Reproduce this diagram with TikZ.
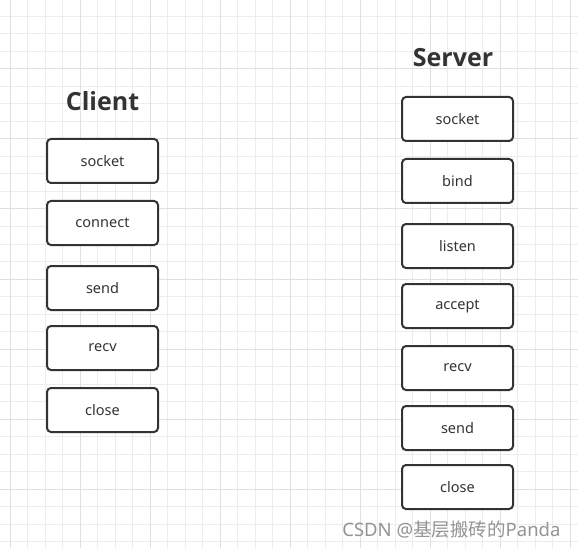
\documentclass[tikz,border=0pt]{standalone}
\usepackage{fontspec}
\setmainfont{Noto Sans}
\newfontfamily\titlefont{Open Sans}
\newfontfamily\cjk{Noto Sans CJK SC}
\definecolor{gridminor}{HTML}{ECECEC}
\definecolor{gridmajor}{HTML}{E0E0E0}
\definecolor{boxline}{HTML}{333333}
\tikzset{
  callbox/.style={draw=boxline, line width=2pt, rounded corners=4pt, fill=white,
    minimum width=111pt, minimum height=44pt, inner sep=0pt, font=\fontsize{14.5}{16}\selectfont, text=boxline},
  sidetitle/.style={font=\titlefont\fontsize{25}{28}\selectfont\bfseries, text=boxline}
}
\begin{document}
\begin{tikzpicture}[x=1pt,y=-1pt]
      \useasboundingbox (0,0) rectangle (578,548);
      \fill[white] (0,0) rectangle (578,548);
      % grid
      \foreach \gx in {0,...,33} {
        \draw[gridminor, line width=1pt] (10+17.5*\gx,0) -- (10+17.5*\gx,548);
      }
      \foreach \gy in {0,...,31} {
        \draw[gridminor, line width=1pt] (0,-1+17.5*\gy) -- (578,-1+17.5*\gy);
      }
      \foreach \gx in {0,...,8} {
        \draw[gridmajor, line width=1pt] (10+70*\gx,0) -- (10+70*\gx,548);
      }
      \foreach \gy in {1,...,7} {
        \draw[gridmajor, line width=1pt] (0,-1+70*\gy) -- (578,-1+70*\gy);
      }
      % client
      \node[sidetitle] at (102.5,101) (ctitle) {Client};
      \node[callbox] at (102.5,161) (csocket) {socket};
      \node[callbox] at (102.5,223) (cconnect) {connect};
      \node[callbox] at (102.5,288) (csend) {send};
      \node[callbox] at (102.5,348) (crecv) {recv};
      \node[callbox] at (102.5,410) (cclose) {close};
      % server
      \node[sidetitle] at (453,58) (stitle) {Server};
      \node[callbox] at (457.5,119) (ssocket) {socket};
      \node[callbox] at (457.5,181) (sbind) {bind};
      \node[callbox] at (457.5,246) (slisten) {listen};
      \node[callbox] at (457.5,306) (saccept) {accept};
      \node[callbox] at (457.5,368) (srecv) {recv};
      \node[callbox] at (457.5,428) (ssend) {send};
      \node[callbox] at (457.5,487) (sclose) {close};
      % watermark
      \node[anchor=east, text=black!42, font=\fontsize{18.5}{20}\selectfont] at (564,530) (mark) {CSDN @{\cjk 基层搬砖的}Panda};
    \end{tikzpicture}
\end{document}
